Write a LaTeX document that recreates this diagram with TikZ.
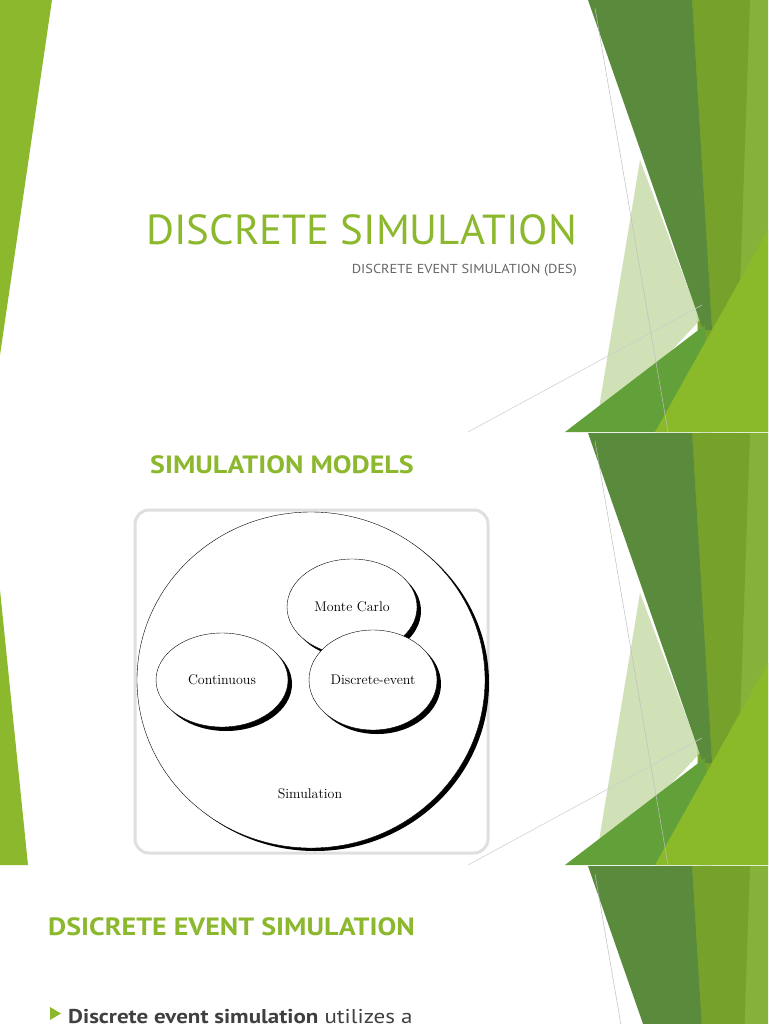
\documentclass[tikz,border=0pt]{standalone}
\usepackage{fontspec}
\usepackage{graphicx}
\setmainfont{PT Sans}
\usetikzlibrary{shapes.geometric}
\definecolor{tgreen}{HTML}{8CB82E}
\definecolor{dgreen}{HTML}{5A8A3C}
\definecolor{mgreen}{HTML}{76A22C}
\definecolor{lgreen}{HTML}{86B23A}
\definecolor{bgreen}{HTML}{8ABA2A}
\definecolor{pgreen}{HTML}{62A03A}
\definecolor{palegreen}{HTML}{C5D9A5}
\tikzset{
  deco/.pic={
    \fill[lgreen] (740,0) -- (768,0) -- (768,432) -- (735,432) -- cycle;
    \fill[mgreen] (690,0) -- (750,0) -- (735,432) -- (700,432) -- cycle;
    \fill[palegreen,opacity=0.8] (640,160) -- (700,320) -- (595,432) -- cycle;
    \fill[dgreen] (588,0) -- (692,0) -- (712,330) -- (703,330) -- cycle;
    \fill[pgreen] (565,432) -- (705,325) -- (712,432) -- cycle;
    \fill[bgreen] (655,432) -- (768,230) -- (768,432) -- cycle;
    \draw[gray!50,line width=0.5] (595,8) -- (668,432);
    \draw[gray!40,line width=0.5] (468,432) -- (702,305);
  },
  ttl/.style={text=tgreen,inner sep=0},
  ell/.style={ellipse,draw=black,line width=0.4,fill=white,inner sep=0,font=\fontfamily{lmr}\selectfont\fontsize{14}{14}\selectfont},
  shd/.style={ellipse,fill=black,inner sep=0}
}
\begin{document}
\begin{tikzpicture}[x=1pt,y=-1pt]
\useasboundingbox (0,0) rectangle (768,1024);
\fill[white] (0,0) rectangle (768,1024);
% slide 1
\pic at (0,0) {deco};
\fill[tgreen] (0,0) -- (52,0) -- (0,355) -- cycle;
\node[ttl,anchor=base east,font=\fontsize{42}{42}\selectfont] (t1) at (577,244) {\scalebox{1.02}[1]{DISCRETE SIMULATION}};
\node[text=gray!80!black,inner sep=0,anchor=base east,font=\fontsize{13}{14}\selectfont] (s1) at (577,273) {\scalebox{1.1}[1]{DISCRETE EVENT SIMULATION (DES)}};
% slide 2
\pic at (0,433) {deco};
\fill[tgreen] (0,590) -- (28,865) -- (0,865) -- cycle;
\node[ttl,anchor=base west,font=\bfseries\fontsize{25}{26}\selectfont] (t2) at (150,473) {\scalebox{1.12}[1]{SIMULATION MODELS}};
\draw[gray!25,line width=3,rounded corners=14] (135,510) rectangle (488,853);
\fill[black] (315,683) ellipse [x radius=174, y radius=168];
\node[ellipse,draw=black,line width=0.4,fill=white,minimum width=348,minimum height=336,inner sep=0] (sim) at (311,680) {};
\node[font=\fontfamily{lmr}\selectfont\fontsize{14}{14}\selectfont] (simt) at (310,794) {Simulation};
\node[shd,minimum width=130,minimum height=96] at (356,611) {};
\node[ell,minimum width=130,minimum height=96] (mc) at (352,607) {Monte Carlo};
\node[shd,minimum width=132,minimum height=94] at (226,684) {};
\node[ell,minimum width=132,minimum height=94] (co) at (222,680) {Continuous};
\node[shd,minimum width=128,minimum height=100] at (377,684) {};
\node[ell,minimum width=128,minimum height=100] (de) at (373,680) {Discrete-event};
% slide 3
\pic at (0,866) {deco};
\node[ttl,anchor=base west,font=\bfseries\fontsize{25}{26}\selectfont] (t3) at (48,935) {\scalebox{1.12}[1]{DSICRETE EVENT SIMULATION}};
\fill[tgreen] (50,1007) -- (61,1013.5) -- (50,1020) -- cycle;
\node[anchor=base west,inner sep=0,text=black!75,font=\fontsize{20}{22}\selectfont] (b1) at (68,1023) {\scalebox{1.15}[1]{\textbf{Discrete event simulation} utilizes a}};
\end{tikzpicture}
\end{document}
